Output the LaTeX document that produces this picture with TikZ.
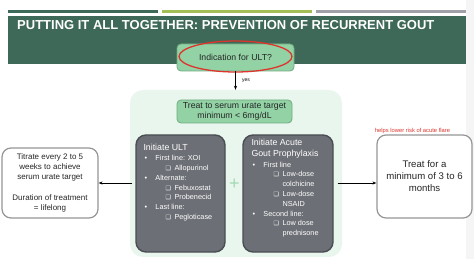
\documentclass[tikz,border=0pt]{standalone}
\usepackage{fontspec}
\setmainfont{Liberation Sans}
\newfontfamily\symfont{DejaVu Sans}
\usetikzlibrary{arrows.meta,positioning,calc}
\definecolor{bandgreen}{RGB}{62,104,88}
\definecolor{olivebar}{RGB}{162,190,84}
\definecolor{greybar}{RGB}{160,161,168}
\definecolor{mintfill}{RGB}{146,210,165}
\definecolor{mintdraw}{RGB}{112,172,128}
\definecolor{palegreen}{RGB}{233,246,238}
\definecolor{slatefill}{RGB}{108,111,117}
\definecolor{slatedraw}{RGB}{74,77,82}
\definecolor{flarered}{RGB}{222,52,44}
\definecolor{boxgrey}{RGB}{150,150,152}
\newcommand{\bul}[1]{\hspace*{1pt}\makebox[11pt][l]{\textbullet}#1}
\newcommand{\chk}[1]{\hspace*{22pt}\makebox[9pt][l]{{\symfont\fontsize{6}{6}\selectfont ❑}}#1}
\newcommand{\cont}[1]{\hspace*{31pt}#1}
\begin{document}
\begin{tikzpicture}[x=1pt,y=-1pt,>={Stealth[length=4pt,width=3pt]}]
  \tikzset{mint/.style={rounded corners=4pt,draw=mintdraw,fill=mintfill,line width=0.8pt,align=center,inner sep=2pt,text=black!85,font=\fontsize{8.7}{10}\selectfont}}
  \tikzset{slate/.style={rounded corners=10pt,draw=slatedraw,fill=slatefill,line width=1.4pt,minimum height=117pt}}
  \tikzset{slatetext/.style={anchor=north west,align=left,text=white,font=\fontsize{7.3}{9.8}\selectfont,inner sep=0pt}}
  \tikzset{plain/.style={rounded corners=9pt,draw=boxgrey,fill=white,line width=1.2pt,align=center,text=black!85}}
  \useasboundingbox (0,0) rectangle (474,259);
  \fill[white] (0,0) rectangle (474,259);
  \fill[gray!8] (466,0) rectangle (474,259);
  % header bars and title band
  \fill[bandgreen] (8,10) rectangle (158,13);
  \fill[olivebar] (162,10) rectangle (312,13);
  \fill[greybar] (316,10) rectangle (466,13);
  \fill[bandgreen] (8,16) rectangle (466,64);
  \node[anchor=west,text=white,inner sep=0pt,font=\fontsize{13}{15}\selectfont\bfseries] (title) at (17,25.5) {PUTTING IT ALL TOGETHER: PREVENTION OF RECURRENT GOUT};
  % pale panel behind the two treatment boxes
  \node[fill=palegreen,rounded corners=13pt,minimum width=212pt,minimum height=167pt] (panel) at (236,173.5) {};
  \node[mint,minimum width=117pt,minimum height=27pt] (ind) at (235.5,57.5) {Indication for ULT?};
  \draw[flarered,line width=1.3pt] (ind.center) ++(0,-1) ellipse [x radius=56.5pt,y radius=15.5pt];
  \draw[->,line width=0.6pt] (ind.south) -- (ind.south |- panel.north) node[midway,right=3pt,font=\fontsize{5}{5}\selectfont] {yes};
  \node[mint,minimum width=115pt,minimum height=23pt] (target) at (234.5,111.5) {Treat to serum urate target\\minimum < 6mg/dL};
  \node[slate,minimum width=89pt] (ult) at (180.5,193.5) {};
  \node[slate,minimum width=90pt] (proph) at (288,193.5) {};
  \node[slatetext] (ulttext) at ($(ult.north west)+(8,9.6)$) {{\fontsize{8.8}{10}\selectfont Initiate ULT}\\[0.5pt]
    \bul{First line: XOI}\\
    \chk{Allopurinol}\\
    \bul{Alternate:}\\
    \chk{Febuxostat}\\
    \chk{Probenecid}\\
    \bul{Last line:}\\
    \chk{Pegloticase}};
  \node[slatetext] (prophtext) at ($(proph.north west)+(9,4.6)$) {{\fontsize{8.8}{11}\selectfont Initiate Acute}\\[1pt]
    {\fontsize{8.8}{11}\selectfont Gout Prophylaxis}\\[1pt]
    \bul{First line}\\
    \chk{Low-dose}\\
    \cont{colchicine}\\
    \chk{Low-dose}\\
    \cont{NSAID}\\
    \bul{Second line:}\\
    \chk{Low dose}\\
    \cont{prednisone}};
  \node[text=mintfill!85!white,inner sep=0pt,font=\fontsize{18}{18}\selectfont] (plus) at (234.5,184) {+};
  % outcome boxes either side
  \node[plain,minimum width=96pt,minimum height=70pt,font=\fontsize{8}{10.3}\selectfont] (titrate) at (50,183) {Titrate every 2 to 5\\weeks to achieve\\serum urate target\\[10.3pt]Duration of treatment\\= lifelong};
  \node[plain,minimum width=95pt,minimum height=83pt,font=\fontsize{9.6}{12}\selectfont] (months) at (424.5,176.5) {Treat for a\\minimum of 3 to 6\\months};
  \node[text=flarered,inner sep=0pt,font=\fontsize{5.8}{6}\selectfont] (flare) at (412.5,131) {helps lower risk of acute flare};
  \draw[->,line width=0.6pt] (ult.west |- titrate.east) ++(-3,0) -- (titrate.east);
  \draw[->,line width=0.6pt] (proph.east |- titrate.east) ++(4,0) -- (months.west |- titrate.east);
\end{tikzpicture}
\end{document}
